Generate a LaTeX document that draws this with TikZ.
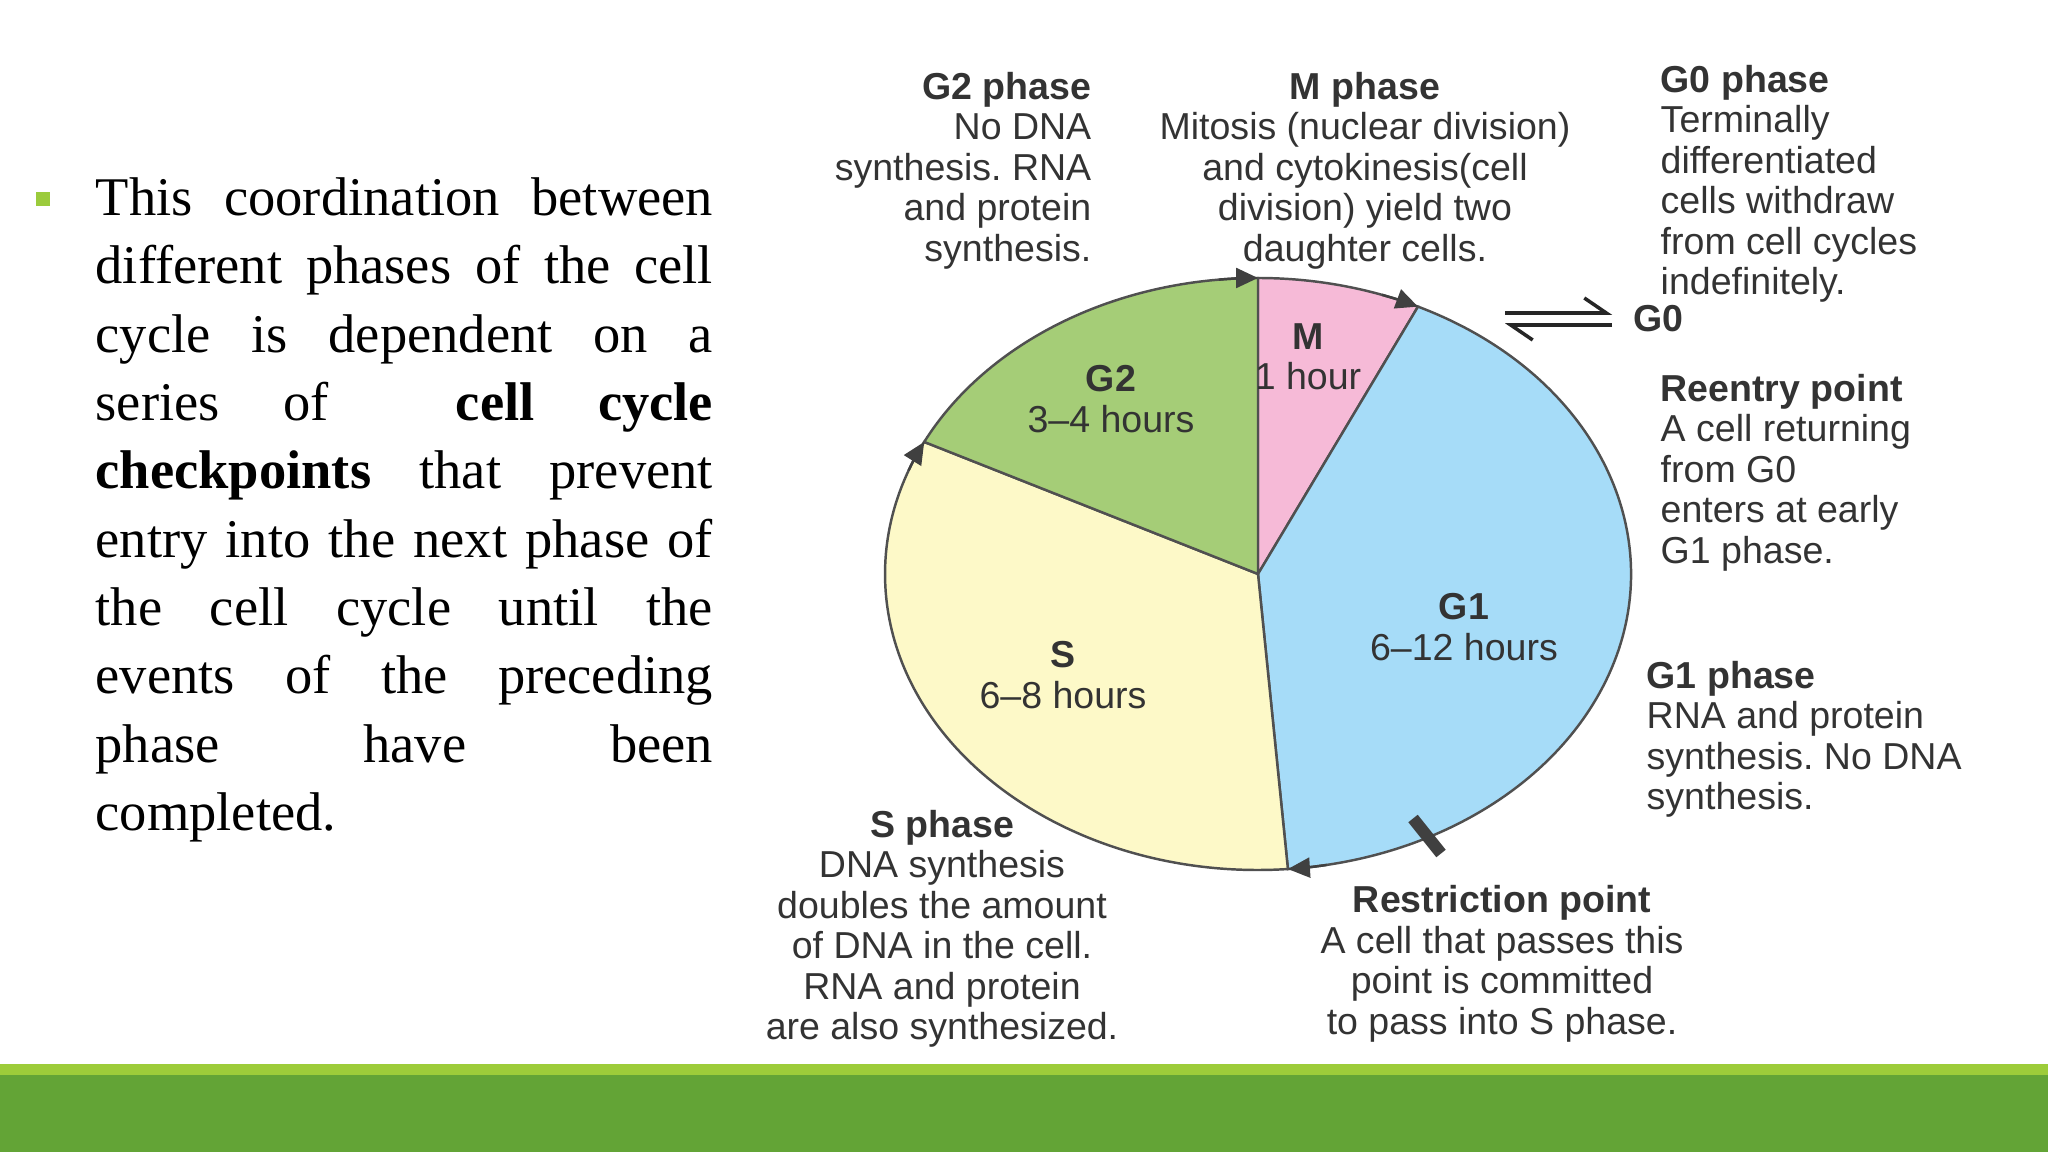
\documentclass[tikz,border=0pt]{standalone}
\usepackage{fontspec}
\setmainfont{Liberation Serif}
\newfontfamily\diagfont{Liberation Sans}
\usetikzlibrary{arrows.meta}
\frenchspacing

\definecolor{mpink}{HTML}{F6BAD7}
\definecolor{gonblue}{HTML}{A6DCF8}
\definecolor{syellow}{HTML}{FDF9C8}
\definecolor{gtwogreen}{HTML}{A5CD77}
\definecolor{rimgray}{HTML}{505050}
\definecolor{arrgray}{HTML}{404040}
\definecolor{txtgray}{HTML}{333333}
\definecolor{bulletgreen}{HTML}{9BCB3C}
\definecolor{bandlight}{HTML}{9DCC3A}
\definecolor{banddark}{HTML}{63A436}

\newlength\bodyw
\setlength\bodyw{6.17cm}

\begin{document}
\begin{tikzpicture}[x=0.01cm, y=0.01cm,
  phase/.style={font={\diagfont\fontsize{10.67pt}{11.52pt}\selectfont}, text=txtgray, inner sep=0pt},
  wedge/.style={draw=rimgray, line width=0.7pt},
  cyc/.style={draw=arrgray, line width=0.7pt, -{Triangle[length=0.22cm, width=0.2cm]}},
  harp/.style={draw=black!85, line width=1pt, -{Straight Barb[left, length=0.22cm, width=0.3cm]}}]

\useasboundingbox (0,0) rectangle (2048,-1152);
\fill[white] (0,0) rectangle (2048,-1152);

% footer band
\fill[bandlight] (0,-1064) rectangle (2048,-1075);
\fill[banddark] (0,-1075) rectangle (2048,-1152);

% bullet and text
\node[fill=bulletgreen, minimum size=0.14cm, inner sep=0pt] (bullet) at (43,-199.5) {};
\node[anchor=north west, inner sep=0pt, text width=\bodyw, align=left,
      font=\fontsize{15.5pt}{19.43pt}\selectfont] (body) at (95,-177) {%
\makebox[\bodyw]{This\hfill coordination\hfill between}\\
\makebox[\bodyw]{different\hfill phases\hfill of\hfill the\hfill cell}\\
\makebox[\bodyw]{cycle\hfill is\hfill dependent\hfill on\hfill a}\\
\makebox[\bodyw]{series\hfill of\hfill\hfill \textbf{cell}\hfill \textbf{cycle}}\\
\makebox[\bodyw]{\textbf{checkpoints}\hfill that\hfill prevent}\\
\makebox[\bodyw]{entry\hfill into\hfill the\hfill next\hfill phase\hfill of}\\
\makebox[\bodyw]{the\hfill cell\hfill cycle\hfill until\hfill the}\\
\makebox[\bodyw]{events\hfill of\hfill the\hfill preceding}\\
\makebox[\bodyw]{phase\hfill have\hfill been}\\
completed.};

% cycle
\coordinate (O) at (1258,-574);

\filldraw[wedge, fill=mpink] (O) -- ++(90:373 and 296)
  arc[start angle=90, end angle=64.6, x radius=373, y radius=296] -- cycle;
\filldraw[wedge, fill=gonblue] (O) -- ++(64.6:373 and 296)
  arc[start angle=64.6, end angle=-85.4, x radius=373, y radius=296] -- cycle;
\filldraw[wedge, fill=syellow] (O) -- ++(274.6:373 and 296)
  arc[start angle=274.6, end angle=153.5, x radius=373, y radius=296] -- cycle;
\filldraw[wedge, fill=gtwogreen] (O) -- ++(153.5:373 and 296)
  arc[start angle=153.5, end angle=90, x radius=373, y radius=296] -- cycle;

\foreach \b in {90, 64.6, -85.4, 153.5}
  \draw[cyc] (O) ++(\b+6:373 and 296)
    arc[start angle=\b+6, end angle=\b, x radius=373, y radius=296];

% restriction point mark
\coordinate (rpA) at (1413,-818.5);
\coordinate (rpB) at (1441,-853.5);
\draw[arrgray, line width=0.12cm] (rpA) -- (rpB);

% labels in the wedges
\begin{scope}
  \clip (O) -- ++(90:373 and 296)
    arc[start angle=90, end angle=64.6, x radius=373, y radius=296] -- cycle;
  \node[phase, align=center] (mlab) at (1308,-357) {\textbf{M}\\1 hour};
\end{scope}
\node[phase, align=center] (gtwolab) at (1111,-399) {\textbf{G2}\\3–4 hours};
\node[phase, align=center] (slab) at (1063,-675) {\textbf{S}\\6–8 hours};
\node[phase, align=center] (gonelab) at (1464,-627) {\textbf{G1}\\6–12 hours};

% notes round the cycle
\node[phase, anchor=north east, align=right] (gtwotxt) at (1092,-71.5)
  {\textbf{G2 phase}\\No DNA\\synthesis. RNA\\and protein\\synthesis.};
\node[phase, anchor=north, align=center] (mtxt) at (1365,-71.5)
  {\textbf{M phase}\\Mitosis (nuclear division)\\and cytokinesis(cell\\division) yield two\\daughter cells.};
\node[phase, anchor=north west, align=left] (gzerotxt) at (1660,-64.5)
  {\textbf{G0 phase}\\Terminally\\differentiated\\cells withdraw\\from cell cycles\\indefinitely.};
\node[phase, anchor=west] (gzero) at (1633,-319) {\textbf{G0}};
\node[phase, anchor=north west, align=left] (reentry) at (1660,-373.5)
  {\textbf{Reentry point}\\A cell returning\\from G0\\enters at early\\G1 phase.};
\node[phase, anchor=north west, align=left] (gonetxt) at (1646,-660.5)
  {\textbf{G1 phase}\\RNA and protein\\synthesis. No DNA\\synthesis.};
\node[phase, anchor=north, align=center] (stxt) at (942,-809.5)
  {\textbf{S phase}\\DNA synthesis\\doubles the amount\\of DNA in the cell.\\RNA and protein\\are also synthesized.};
\node[phase, anchor=north, align=center] (restrict) at (1502,-885)
  {\textbf{Restriction point}\\A cell that passes this\\point is committed\\to pass into S phase.};

% G0 exchange
\coordinate (hpA) at (1505,-313);
\coordinate (hpB) at (1612,-313);
\coordinate (hpC) at (1612,-325);
\coordinate (hpD) at (1505,-325);
\draw[harp] (hpA) -- (hpB);
\draw[harp] (hpC) -- (hpD);

\end{tikzpicture}
\end{document}
